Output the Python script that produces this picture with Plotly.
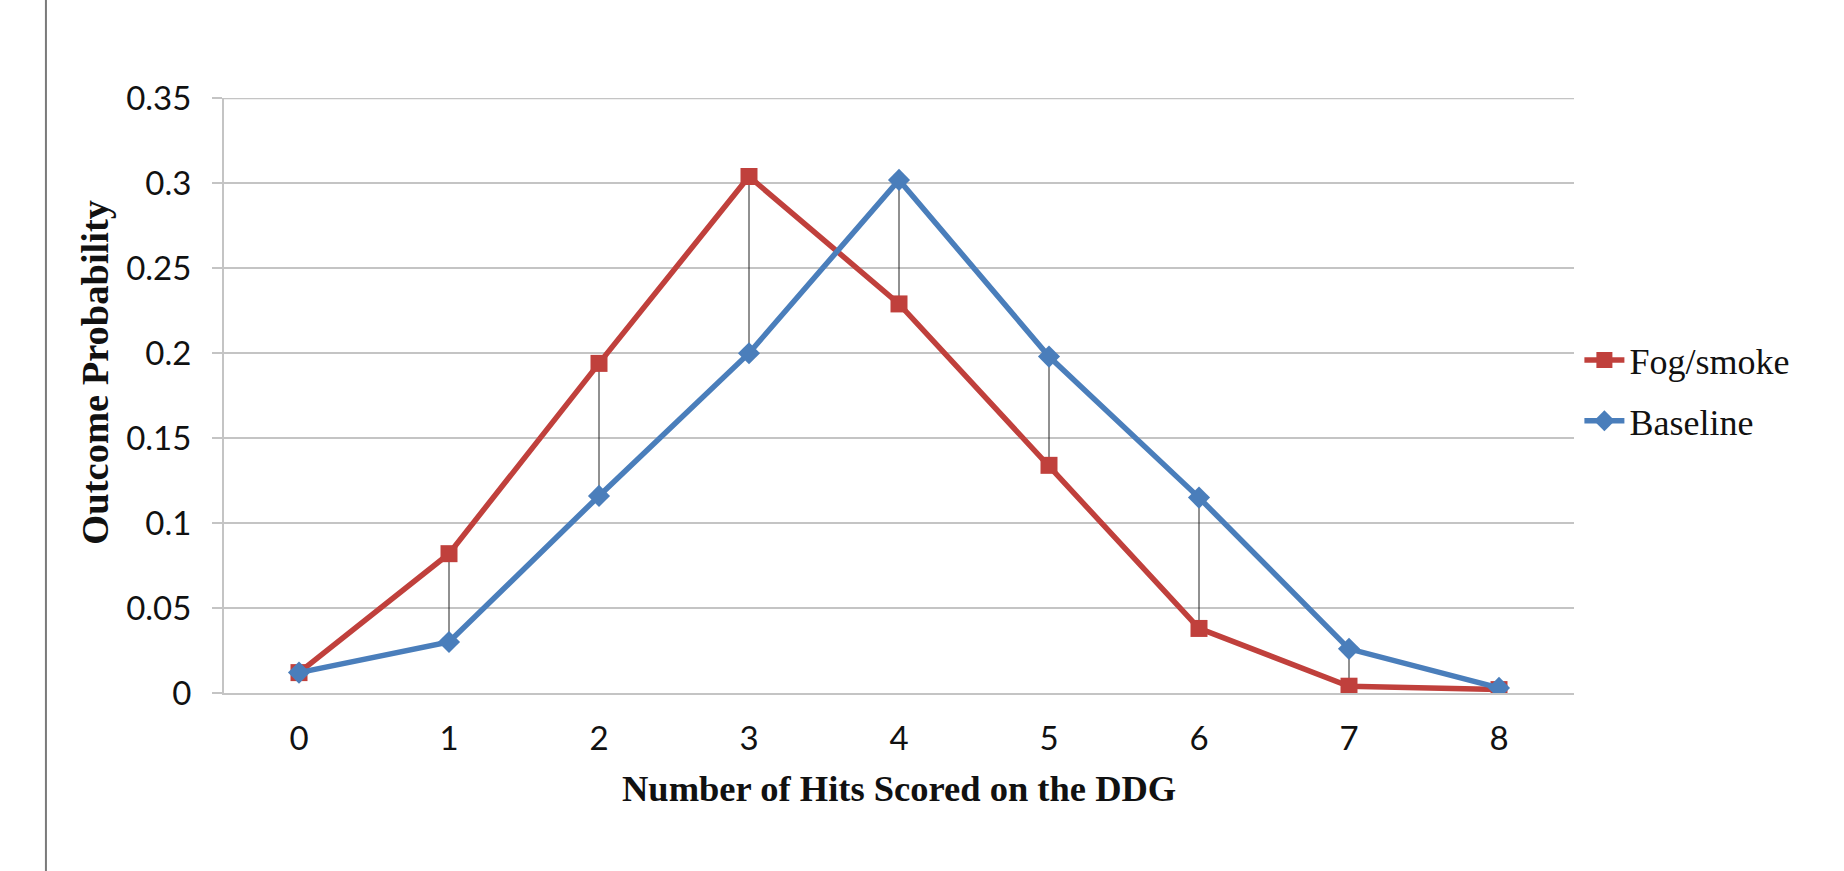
import plotly.graph_objects as go

# ---- data ----
hits = ["0", "1", "2", "3", "4", "5", "6", "7", "8"]
fog_smoke = [0.012, 0.082, 0.194, 0.304, 0.229, 0.134, 0.038, 0.004, 0.002]
baseline = [0.012, 0.030, 0.116, 0.200, 0.302, 0.198, 0.115, 0.026, 0.003]
y_ticks = [0, 0.05, 0.1, 0.15, 0.2, 0.25, 0.3, 0.35]

RED = "#C0403C"
BLUE = "#4A7EBB"
GRID = "#C4C4C4"

# high-low (drop) lines between the two series
drop_x, drop_y = [], []
for h, a, b in zip(hits, fog_smoke, baseline):
    drop_x += [h, h, None]
    drop_y += [a, b, None]

fig = go.Figure()
fig.add_trace(go.Scatter(
    x=drop_x, y=drop_y, mode="lines",
    line=dict(color="#222222", width=1),
    showlegend=False, hoverinfo="skip"))
fig.add_trace(go.Scatter(
    x=hits, y=fog_smoke, mode="lines+markers", name="Fog/smoke",
    legendgroup="fog",
    line=dict(color=RED, width=5.5),
    marker=dict(symbol="square", size=17, color=RED)))
fig.add_trace(go.Scatter(
    x=hits, y=baseline, mode="lines+markers", name="Baseline",
    legendgroup="base",
    line=dict(color=BLUE, width=5.5),
    marker=dict(symbol="diamond", size=17, color=BLUE)))

fig.update_layout(
    width=1844, height=871,
    margin=dict(l=224, r=270, t=98, b=178, autoexpand=False),
    paper_bgcolor="white", plot_bgcolor="white",
    font=dict(family="Lato", size=33, color="#111111"),
    legend=dict(
        x=1.004, y=0.61, xanchor="left", yanchor="top",
        font=dict(family="Liberation Serif", size=36, color="#111111"),
        bgcolor="rgba(0,0,0,0)", itemwidth=40,
        tracegroupgap=11, traceorder="grouped"),
    xaxis=dict(
        type="category", range=[-0.5, 8.5],
        showgrid=False, showline=True, linecolor=GRID, linewidth=2,
        ticks="", ticklabelstandoff=15,
        tickfont=dict(family="Lato", size=33, color="#111111")),
    yaxis=dict(
        range=[0, 0.3502], tickvals=y_ticks,
        showgrid=True, gridcolor=GRID, gridwidth=2,
        showline=True, linecolor=GRID, linewidth=2,
        ticks="outside", ticklen=10, tickcolor=GRID, tickwidth=2,
        zeroline=False, ticklabelstandoff=14,
        tickfont=dict(family="Lato", size=33, color="#111111")),
    annotations=[
        dict(text="<b>Number of Hits Scored on the DDG</b>",
             xref="paper", yref="paper", x=0.5, y=-0.16,
             xanchor="center", yanchor="middle", showarrow=False,
             font=dict(family="Liberation Serif", size=36.5, color="#111111")),
        dict(text="<b>Outcome Probability</b>",
             xref="paper", yref="paper", x=-0.0956, y=0.54,
             xanchor="center", yanchor="middle", showarrow=False,
             textangle=-90,
             font=dict(family="Liberation Serif", size=38.5, color="#111111")),
    ],
    shapes=[
        dict(type="line", xref="paper", yref="paper",
             x0=-0.1319, x1=-0.1319, y0=-0.30, y1=1.17,
             line=dict(color="#7A7A7A", width=2)),
        # top gridline at the last tick value (plotly skips it at the edge)
        dict(type="line", xref="paper", yref="y", layer="below",
             x0=0, x1=1, y0=y_ticks[-1], y1=y_ticks[-1],
             line=dict(color=GRID, width=2)),
    ],
)

fig.write_html("out.html")
